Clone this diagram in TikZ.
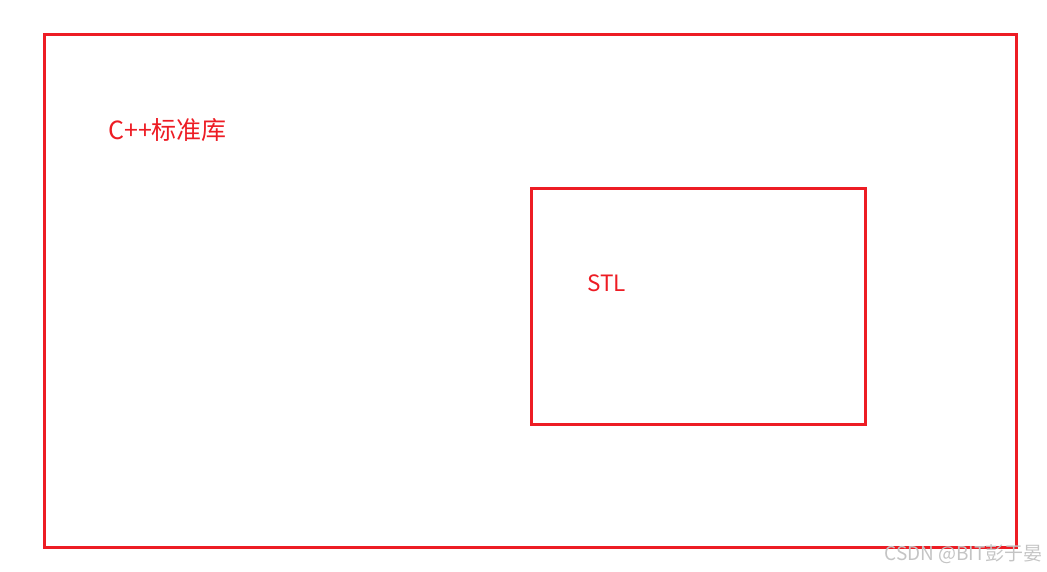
\documentclass[tikz,border=0pt]{standalone}
\usepackage{fontspec}
\setmainfont{Noto Sans CJK SC}
\definecolor{boxred}{HTML}{ED1C24}
\definecolor{markgray}{HTML}{C4C4C4}
\begin{document}
\begin{tikzpicture}[
  x = 1pt,
  y = -1pt,
  frame/.style = {
    draw = boxred,
    line width = 3pt,
  },
  boxlabel/.style = {
    text = boxred,
    font = \fontsize{22.5}{26}\selectfont,
    inner sep = 0pt,
    anchor = west,
  },
  watermark/.style = {
    text = markgray,
    font = \fontsize{19}{22}\selectfont,
    inner sep = 0pt,
    anchor = east,
  }
]
  \useasboundingbox (0, 0) rectangle (1047, 572);

  \draw[frame] (44, 35) rectangle (1016, 547);
  \node[boxlabel, font = \fontsize{25}{30}\selectfont] (stdlib) at (108, 130) {C++标准库};

  \draw[frame] (531, 189) rectangle (865, 424);
  \node[boxlabel] (stl) at (587, 283) {STL};

  \node[watermark] (wm) at (1043, 554) {CSDN @BIT彭于晏};
\end{tikzpicture}
\end{document}
